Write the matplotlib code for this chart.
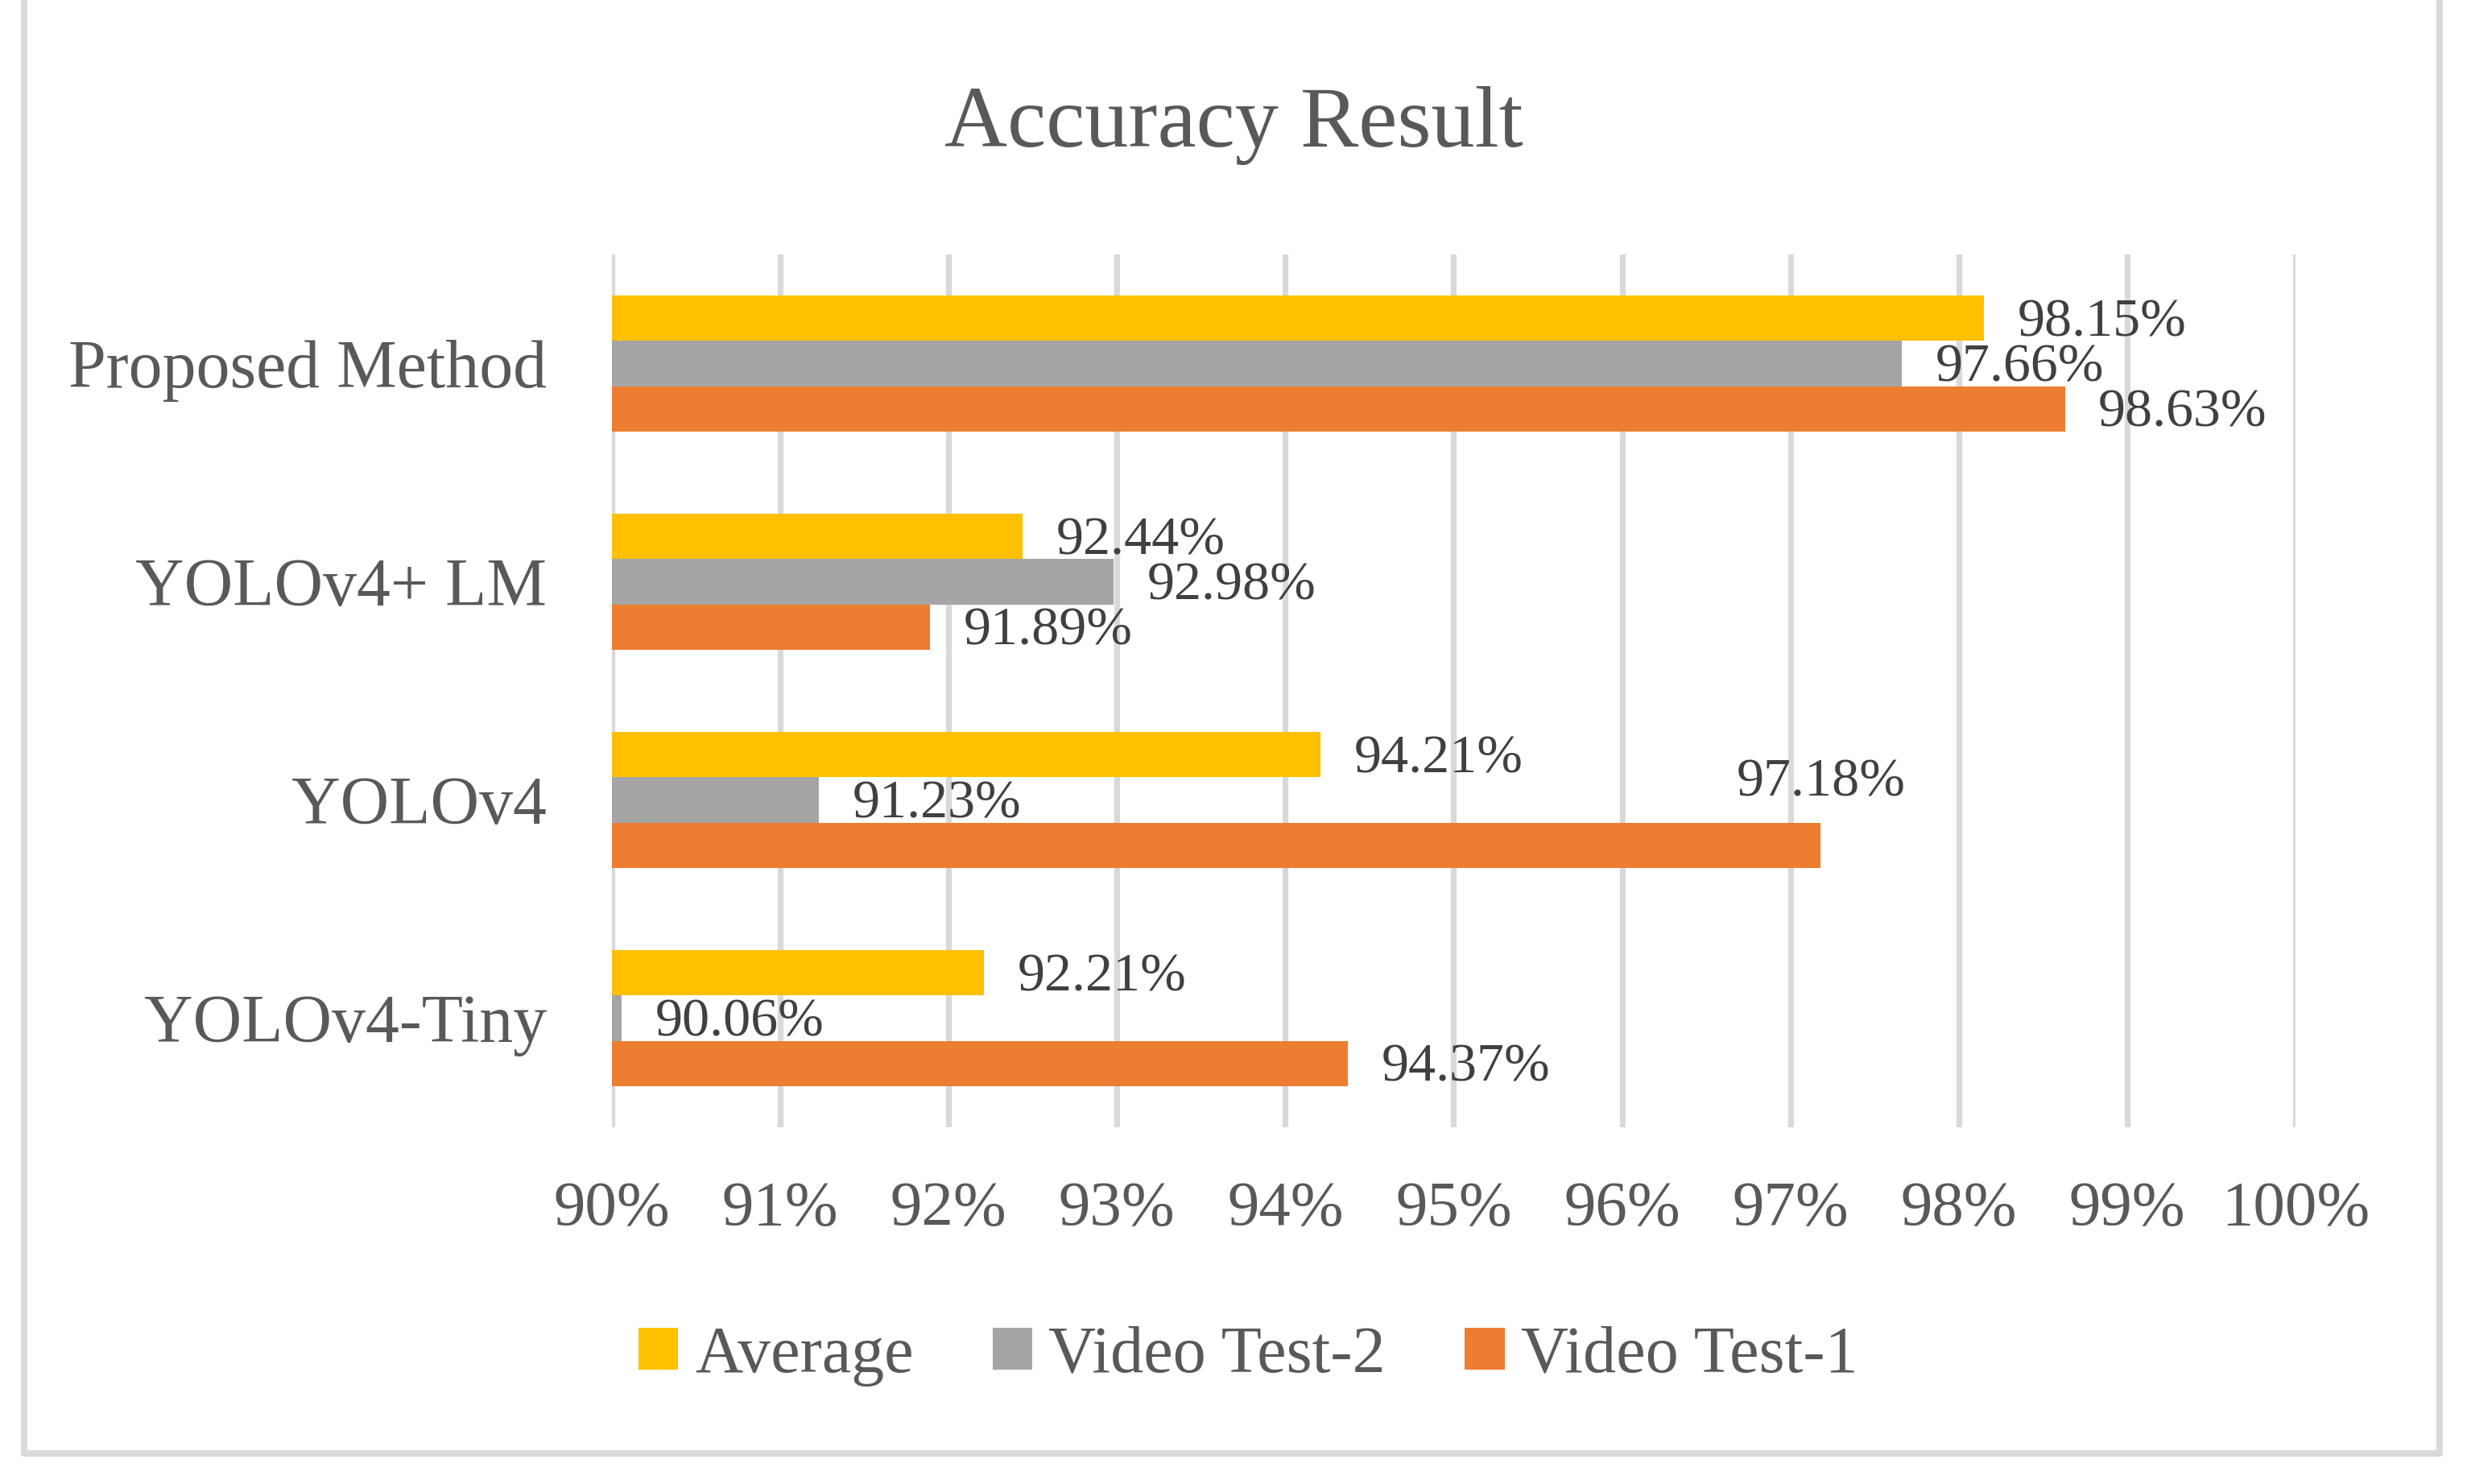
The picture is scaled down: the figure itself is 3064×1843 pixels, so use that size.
import matplotlib.pyplot as plt
from matplotlib.lines import Line2D
import numpy as np

plt.rcParams['font.family'] = ['Liberation Serif', 'DejaVu Serif']

# categories from bottom to top
methods = ['YOLOv4-Tiny', 'YOLOv4', 'YOLOv4+ LM', 'Proposed Method']
video_test_1 = [94.37, 97.18, 91.89, 98.63]
video_test_2 = [90.06, 91.23, 92.98, 97.66]
average = [92.21, 94.21, 92.44, 98.15]
ticks = list(range(90, 101))

series = [('Average', average, '#FFC000'),
          ('Video Test-2', video_test_2, '#A5A5A5'),
          ('Video Test-1', video_test_1, '#ED7D31')]

fig = plt.figure(figsize=(15.32, 9.215), dpi=200)
ax = fig.add_axes([0.248, 0.2404, 0.6825, 0.5881])

y = np.arange(len(methods))
h = 0.208
offsets = [h, 0, -h]
bars = []
for (name, vals, col), off in zip(series, offsets):
    b = ax.barh(y + off, np.array(vals) - 90, left=90, height=h, color=col,
                label=name, zorder=3)
    bars.append(b)
    for yi, v in zip(y, vals):
        if name == 'Video Test-1' and methods[yi] == 'YOLOv4':
            # this label sits above its bar in the original
            ax.annotate('%.2f%%' % v, (v, yi + off), xytext=(0, 28),
                        textcoords='offset points', ha='center', va='center',
                        fontsize=24.5, color='#404040', zorder=4)
        else:
            ax.annotate('%.2f%%' % v, (v, yi + off), xytext=(15, -2),
                        textcoords='offset points', ha='left', va='center',
                        fontsize=24.5, color='#404040', zorder=4)

ax.set_xlim(90, 100)
ax.set_ylim(-0.5, 3.5)
ax.set_xticks(ticks)
ax.set_xticklabels(['%d%%' % t for t in ticks])
ax.set_yticks(y)
ax.set_yticklabels(methods)
ax.tick_params(axis='x', length=0, pad=24, labelsize=28.4, labelcolor='#595959')
ax.tick_params(axis='y', length=0, pad=29, labelsize=30.2, labelcolor='#595959')
ax.grid(axis='x', color='#D9D9D9', linewidth=2.6, zorder=0)
ax.set_axisbelow(True)
for s in ax.spines.values():
    s.set_visible(False)

fig.text(0.5, 0.901, 'Accuracy Result', ha='center', va='baseline',
         fontsize=39, color='#595959')

fig.legend(handles=bars, labels=[s[0] for s in series], loc='center',
           bbox_to_anchor=(0.506, 0.0863), ncol=3, frameon=False,
           fontsize=29.5, labelcolor='#595959', handlelength=0.6,
           handleheight=0.6, handletextpad=0.25, columnspacing=1.2)

# chart border (top edge is cut off in the original)
fig.add_artist(Line2D([0.0098, 0.0098, 0.989, 0.989], [1.0, 0.0206, 0.0206, 1.0],
                      color='#D9D9D9', linewidth=2.9, transform=fig.transFigure))

fig.savefig('out.png', dpi=200)
